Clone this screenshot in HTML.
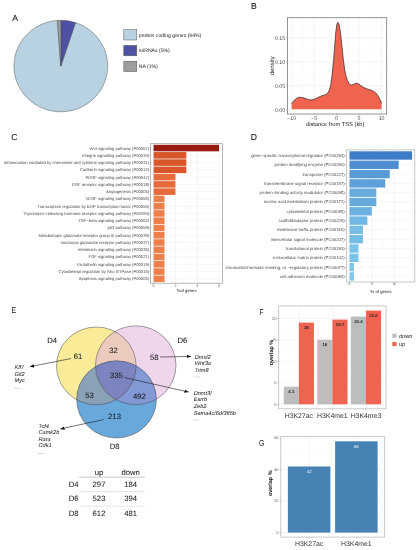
<!DOCTYPE html>
<html><head><meta charset="utf-8"><title>Figure</title>
<style>
html,body{margin:0;padding:0;background:#fff;}
body{width:418px;height:550px;overflow:hidden;}
svg{display:block;filter:blur(0.3px);font-family:"Liberation Sans",sans-serif;text-rendering:geometricPrecision;}
</style></head><body>
<svg width="418" height="550" viewBox="0 0 418 550">
<rect x="0" y="0" width="418" height="550" fill="#ffffff"/>
<text transform="translate(12.3 20.8) scale(1.0 1)" font-size="8.6" fill="#1c1c1c" stroke="#1c1c1c" stroke-width="0.1">A</text>
<text transform="translate(250.9 9.2) scale(1.0 1)" font-size="8.6" fill="#1c1c1c" stroke="#1c1c1c" stroke-width="0.1">B</text>
<text transform="translate(11.3 140.0) scale(1.0 1)" font-size="8.6" fill="#1c1c1c" stroke="#1c1c1c" stroke-width="0.1">C</text>
<text transform="translate(250.8 140.0) scale(1.0 1)" font-size="8.6" fill="#1c1c1c" stroke="#1c1c1c" stroke-width="0.1">D</text>
<text transform="translate(11.4 313.2) scale(0.82 1)" font-size="8.6" fill="#1c1c1c" stroke="#1c1c1c" stroke-width="0.02">E</text>
<text transform="translate(259.6 315.2) scale(0.78 1)" font-size="8.6" fill="#1c1c1c" stroke="#1c1c1c" stroke-width="0.02">F</text>
<text transform="translate(259.0 446.3) scale(0.8 1)" font-size="8.6" fill="#1c1c1c" stroke="#1c1c1c" stroke-width="0.02">G</text>
<path d="M60.80 66.05 L75.53 22.61 A46.9 45.75 0 1 1 57.37 20.42 Z" fill="#b8d2e1" stroke="#4a4a4a" stroke-width="0.45" stroke-linejoin="round"/>
<path d="M60.80 66.05 L60.80 20.30 A46.9 45.75 0 0 1 75.53 22.61 Z" fill="#4d51a3" stroke="#4a4a4a" stroke-width="0.45" stroke-linejoin="round"/>
<path d="M60.80 66.05 L57.37 20.42 A46.9 45.75 0 0 1 60.80 20.30 Z" fill="#9d9d9d" stroke="#4a4a4a" stroke-width="0.45" stroke-linejoin="round"/>
<rect x="123.80" y="29.60" width="13.00" height="10.40" fill="#b8d2e1" stroke="#555" stroke-width="0.5"/>
<text x="138.80" y="36.60" font-size="5.12" fill="#222">protein coding genes (94%)</text>
<rect x="123.80" y="45.40" width="13.00" height="10.40" fill="#4d51a3" stroke="#555" stroke-width="0.5"/>
<text x="138.80" y="52.40" font-size="5.12" fill="#222">miRNAs (5%)</text>
<rect x="123.80" y="61.20" width="13.00" height="10.40" fill="#9d9d9d" stroke="#555" stroke-width="0.5"/>
<text x="138.80" y="68.20" font-size="5.12" fill="#222">NA (1%)</text>
<rect x="287.40" y="17.70" width="99.30" height="96.30" fill="#fff"/>
<line x1="302.85" y1="17.70" x2="302.85" y2="114.00" stroke="#f3f3f3" stroke-width="0.3"/>
<line x1="325.35" y1="17.70" x2="325.35" y2="114.00" stroke="#f3f3f3" stroke-width="0.3"/>
<line x1="347.85" y1="17.70" x2="347.85" y2="114.00" stroke="#f3f3f3" stroke-width="0.3"/>
<line x1="370.35" y1="17.70" x2="370.35" y2="114.00" stroke="#f3f3f3" stroke-width="0.3"/>
<line x1="287.40" y1="97.40" x2="386.70" y2="97.40" stroke="#f3f3f3" stroke-width="0.3"/>
<line x1="287.40" y1="73.60" x2="386.70" y2="73.60" stroke="#f3f3f3" stroke-width="0.3"/>
<line x1="287.40" y1="49.80" x2="386.70" y2="49.80" stroke="#f3f3f3" stroke-width="0.3"/>
<line x1="287.40" y1="26.00" x2="386.70" y2="26.00" stroke="#f3f3f3" stroke-width="0.3"/>
<line x1="291.60" y1="17.70" x2="291.60" y2="114.00" stroke="#ebebeb" stroke-width="0.5"/>
<line x1="314.10" y1="17.70" x2="314.10" y2="114.00" stroke="#ebebeb" stroke-width="0.5"/>
<line x1="336.60" y1="17.70" x2="336.60" y2="114.00" stroke="#ebebeb" stroke-width="0.5"/>
<line x1="359.10" y1="17.70" x2="359.10" y2="114.00" stroke="#ebebeb" stroke-width="0.5"/>
<line x1="381.60" y1="17.70" x2="381.60" y2="114.00" stroke="#ebebeb" stroke-width="0.5"/>
<line x1="287.40" y1="109.30" x2="386.70" y2="109.30" stroke="#ebebeb" stroke-width="0.5"/>
<line x1="287.40" y1="85.50" x2="386.70" y2="85.50" stroke="#ebebeb" stroke-width="0.5"/>
<line x1="287.40" y1="61.70" x2="386.70" y2="61.70" stroke="#ebebeb" stroke-width="0.5"/>
<line x1="287.40" y1="37.90" x2="386.70" y2="37.90" stroke="#ebebeb" stroke-width="0.5"/>
<path d="M291.6 109.3 L291.6 103.8 L293.5 101.0 L295.5 99.0 L297.5 97.7 L299.8 97.2 L302.5 97.5 L305.0 98.3 L307.5 99.3 L310.3 100.0 L313.0 99.6 L315.8 98.6 L318.5 97.3 L321.3 95.9 L323.5 95.2 L325.4 94.7 L327.0 93.8 L328.3 92.2 L329.6 89.3 L330.9 84.3 L332.2 74.0 L333.6 59.5 L334.8 44.0 L335.8 32.0 L336.8 24.6 L337.8 22.3 L338.8 23.5 L339.7 27.5 L340.8 35.5 L341.9 45.8 L343.2 58.5 L344.6 69.1 L346.0 76.0 L347.4 80.4 L348.8 83.2 L350.2 84.7 L351.6 85.0 L352.9 84.7 L354.7 83.7 L356.5 83.2 L358.2 83.7 L359.8 84.8 L361.8 86.3 L363.9 87.6 L366.0 88.5 L368.0 89.2 L370.7 90.0 L373.5 91.2 L375.7 92.8 L377.7 95.3 L379.5 98.5 L381.6 103.2 L381.6 109.3 Z" fill="#f0634e"/>
<path d="M291.6 103.8 L293.5 101.0 L295.5 99.0 L297.5 97.7 L299.8 97.2 L302.5 97.5 L305.0 98.3 L307.5 99.3 L310.3 100.0 L313.0 99.6 L315.8 98.6 L318.5 97.3 L321.3 95.9 L323.5 95.2 L325.4 94.7 L327.0 93.8 L328.3 92.2 L329.6 89.3 L330.9 84.3 L332.2 74.0 L333.6 59.5 L334.8 44.0 L335.8 32.0 L336.8 24.6 L337.8 22.3 L338.8 23.5 L339.7 27.5 L340.8 35.5 L341.9 45.8 L343.2 58.5 L344.6 69.1 L346.0 76.0 L347.4 80.4 L348.8 83.2 L350.2 84.7 L351.6 85.0 L352.9 84.7 L354.7 83.7 L356.5 83.2 L358.2 83.7 L359.8 84.8 L361.8 86.3 L363.9 87.6 L366.0 88.5 L368.0 89.2 L370.7 90.0 L373.5 91.2 L375.7 92.8 L377.7 95.3 L379.5 98.5 L381.6 103.2" fill="none" stroke="#2a2a2a" stroke-width="0.7" stroke-linejoin="round"/>
<rect x="287.40" y="17.70" width="99.30" height="96.30" fill="none" stroke="#7a7a7a" stroke-width="0.8"/>
<text x="285.20" y="111.50" font-size="5.3" text-anchor="end" fill="#4d4d4d">0.00</text>
<line x1="286.10" y1="109.30" x2="287.40" y2="109.30" stroke="#777" stroke-width="0.4"/>
<text x="285.20" y="87.70" font-size="5.3" text-anchor="end" fill="#4d4d4d">0.05</text>
<line x1="286.10" y1="85.50" x2="287.40" y2="85.50" stroke="#777" stroke-width="0.4"/>
<text x="285.20" y="63.90" font-size="5.3" text-anchor="end" fill="#4d4d4d">0.10</text>
<line x1="286.10" y1="61.70" x2="287.40" y2="61.70" stroke="#777" stroke-width="0.4"/>
<text x="285.20" y="40.10" font-size="5.3" text-anchor="end" fill="#4d4d4d">0.15</text>
<line x1="286.10" y1="37.90" x2="287.40" y2="37.90" stroke="#777" stroke-width="0.4"/>
<text x="291.60" y="120.30" font-size="5.3" text-anchor="middle" fill="#4d4d4d">−10</text>
<line x1="291.60" y1="114.00" x2="291.60" y2="115.30" stroke="#777" stroke-width="0.4"/>
<text x="314.10" y="120.30" font-size="5.3" text-anchor="middle" fill="#4d4d4d">−5</text>
<line x1="314.10" y1="114.00" x2="314.10" y2="115.30" stroke="#777" stroke-width="0.4"/>
<text x="336.60" y="120.30" font-size="5.3" text-anchor="middle" fill="#4d4d4d">0</text>
<line x1="336.60" y1="114.00" x2="336.60" y2="115.30" stroke="#777" stroke-width="0.4"/>
<text x="359.10" y="120.30" font-size="5.3" text-anchor="middle" fill="#4d4d4d">5</text>
<line x1="359.10" y1="114.00" x2="359.10" y2="115.30" stroke="#777" stroke-width="0.4"/>
<text x="381.60" y="120.30" font-size="5.3" text-anchor="middle" fill="#4d4d4d">10</text>
<line x1="381.60" y1="114.00" x2="381.60" y2="115.30" stroke="#777" stroke-width="0.4"/>
<text x="335.15" y="126.00" font-size="5.72" text-anchor="middle" fill="#222">distance from TSS (kb)</text>
<text x="274.30" y="65.85" font-size="6" text-anchor="middle" transform="rotate(-90 274.3 65.85)" fill="#222">density</text>
<rect x="150.35" y="143.70" width="72.05" height="139.50" fill="#fff"/>
<line x1="164.50" y1="143.70" x2="164.50" y2="283.20" stroke="#f3f3f3" stroke-width="0.3"/>
<line x1="186.30" y1="143.70" x2="186.30" y2="283.20" stroke="#f3f3f3" stroke-width="0.3"/>
<line x1="208.10" y1="143.70" x2="208.10" y2="283.20" stroke="#f3f3f3" stroke-width="0.3"/>
<line x1="153.60" y1="143.70" x2="153.60" y2="283.20" stroke="#ebebeb" stroke-width="0.5"/>
<line x1="175.40" y1="143.70" x2="175.40" y2="283.20" stroke="#ebebeb" stroke-width="0.5"/>
<line x1="197.20" y1="143.70" x2="197.20" y2="283.20" stroke="#ebebeb" stroke-width="0.5"/>
<line x1="219.00" y1="143.70" x2="219.00" y2="283.20" stroke="#ebebeb" stroke-width="0.5"/>
<line x1="150.35" y1="148.06" x2="222.40" y2="148.06" stroke="#ebebeb" stroke-width="0.4"/>
<line x1="150.35" y1="155.32" x2="222.40" y2="155.32" stroke="#ebebeb" stroke-width="0.4"/>
<line x1="150.35" y1="162.59" x2="222.40" y2="162.59" stroke="#ebebeb" stroke-width="0.4"/>
<line x1="150.35" y1="169.86" x2="222.40" y2="169.86" stroke="#ebebeb" stroke-width="0.4"/>
<line x1="150.35" y1="177.12" x2="222.40" y2="177.12" stroke="#ebebeb" stroke-width="0.4"/>
<line x1="150.35" y1="184.39" x2="222.40" y2="184.39" stroke="#ebebeb" stroke-width="0.4"/>
<line x1="150.35" y1="191.65" x2="222.40" y2="191.65" stroke="#ebebeb" stroke-width="0.4"/>
<line x1="150.35" y1="198.92" x2="222.40" y2="198.92" stroke="#ebebeb" stroke-width="0.4"/>
<line x1="150.35" y1="206.18" x2="222.40" y2="206.18" stroke="#ebebeb" stroke-width="0.4"/>
<line x1="150.35" y1="213.45" x2="222.40" y2="213.45" stroke="#ebebeb" stroke-width="0.4"/>
<line x1="150.35" y1="220.72" x2="222.40" y2="220.72" stroke="#ebebeb" stroke-width="0.4"/>
<line x1="150.35" y1="227.98" x2="222.40" y2="227.98" stroke="#ebebeb" stroke-width="0.4"/>
<line x1="150.35" y1="235.25" x2="222.40" y2="235.25" stroke="#ebebeb" stroke-width="0.4"/>
<line x1="150.35" y1="242.51" x2="222.40" y2="242.51" stroke="#ebebeb" stroke-width="0.4"/>
<line x1="150.35" y1="249.78" x2="222.40" y2="249.78" stroke="#ebebeb" stroke-width="0.4"/>
<line x1="150.35" y1="257.04" x2="222.40" y2="257.04" stroke="#ebebeb" stroke-width="0.4"/>
<line x1="150.35" y1="264.31" x2="222.40" y2="264.31" stroke="#ebebeb" stroke-width="0.4"/>
<line x1="150.35" y1="271.57" x2="222.40" y2="271.57" stroke="#ebebeb" stroke-width="0.4"/>
<line x1="150.35" y1="278.84" x2="222.40" y2="278.84" stroke="#ebebeb" stroke-width="0.4"/>
<rect x="153.60" y="144.79" width="65.40" height="6.54" fill="#9a1b14"/>
<text x="149.15" y="149.51" font-size="4.15" text-anchor="end" fill="#4a4a4a">Wnt signaling pathway (P00057)</text>
<line x1="149.25" y1="148.06" x2="150.35" y2="148.06" stroke="#777" stroke-width="0.35"/>
<rect x="153.60" y="152.06" width="32.70" height="6.54" fill="#d8562a"/>
<text x="149.15" y="156.77" font-size="4.15" text-anchor="end" fill="#4a4a4a">Integrin signalling pathway (P00034)</text>
<line x1="149.25" y1="155.32" x2="150.35" y2="155.32" stroke="#777" stroke-width="0.35"/>
<rect x="153.60" y="159.32" width="32.70" height="6.54" fill="#d8562a"/>
<text x="149.15" y="164.04" font-size="4.15" text-anchor="end" fill="#4a4a4a">Inflammation mediated by chemokine and cytokine signaling pathway (P00031)</text>
<line x1="149.25" y1="162.59" x2="150.35" y2="162.59" stroke="#777" stroke-width="0.35"/>
<rect x="153.60" y="166.59" width="32.70" height="6.54" fill="#d8562a"/>
<text x="149.15" y="171.31" font-size="4.15" text-anchor="end" fill="#4a4a4a">Cadherin signaling pathway (P00012)</text>
<line x1="149.25" y1="169.86" x2="150.35" y2="169.86" stroke="#777" stroke-width="0.35"/>
<rect x="153.60" y="173.85" width="21.80" height="6.54" fill="#e66a3a"/>
<text x="149.15" y="178.57" font-size="4.15" text-anchor="end" fill="#4a4a4a">PDGF signaling pathway (P00047)</text>
<line x1="149.25" y1="177.12" x2="150.35" y2="177.12" stroke="#777" stroke-width="0.35"/>
<rect x="153.60" y="181.12" width="21.80" height="6.54" fill="#e66a3a"/>
<text x="149.15" y="185.84" font-size="4.15" text-anchor="end" fill="#4a4a4a">EGF receptor signaling pathway (P00018)</text>
<line x1="149.25" y1="184.39" x2="150.35" y2="184.39" stroke="#777" stroke-width="0.35"/>
<rect x="153.60" y="188.38" width="21.80" height="6.54" fill="#e66a3a"/>
<text x="149.15" y="193.10" font-size="4.15" text-anchor="end" fill="#4a4a4a">Angiogenesis (P00005)</text>
<line x1="149.25" y1="191.65" x2="150.35" y2="191.65" stroke="#777" stroke-width="0.35"/>
<rect x="153.60" y="195.65" width="10.90" height="6.54" fill="#ef8049"/>
<text x="149.15" y="200.37" font-size="4.15" text-anchor="end" fill="#4a4a4a">VEGF signaling pathway (P00056)</text>
<line x1="149.25" y1="198.92" x2="150.35" y2="198.92" stroke="#777" stroke-width="0.35"/>
<rect x="153.60" y="202.91" width="10.90" height="6.54" fill="#ef8049"/>
<text x="149.15" y="207.63" font-size="4.15" text-anchor="end" fill="#4a4a4a">Transcription regulation by bZIP transcription factor (P00055)</text>
<line x1="149.25" y1="206.18" x2="150.35" y2="206.18" stroke="#777" stroke-width="0.35"/>
<rect x="153.60" y="210.18" width="10.90" height="6.54" fill="#ef8049"/>
<text x="149.15" y="214.90" font-size="4.15" text-anchor="end" fill="#4a4a4a">Thyrotropin−releasing hormone receptor signaling pathway (P04394)</text>
<line x1="149.25" y1="213.45" x2="150.35" y2="213.45" stroke="#777" stroke-width="0.35"/>
<rect x="153.60" y="217.45" width="10.90" height="6.54" fill="#ef8049"/>
<text x="149.15" y="222.17" font-size="4.15" text-anchor="end" fill="#4a4a4a">TGF−beta signaling pathway (P00052)</text>
<line x1="149.25" y1="220.72" x2="150.35" y2="220.72" stroke="#777" stroke-width="0.35"/>
<rect x="153.60" y="224.71" width="10.90" height="6.54" fill="#ef8049"/>
<text x="149.15" y="229.43" font-size="4.15" text-anchor="end" fill="#4a4a4a">p53 pathway (P00059)</text>
<line x1="149.25" y1="227.98" x2="150.35" y2="227.98" stroke="#777" stroke-width="0.35"/>
<rect x="153.60" y="231.98" width="10.90" height="6.54" fill="#ef8049"/>
<text x="149.15" y="236.70" font-size="4.15" text-anchor="end" fill="#4a4a4a">Metabotropic glutamate receptor group III pathway (P00039)</text>
<line x1="149.25" y1="235.25" x2="150.35" y2="235.25" stroke="#777" stroke-width="0.35"/>
<rect x="153.60" y="239.24" width="10.90" height="6.54" fill="#ef8049"/>
<text x="149.15" y="243.96" font-size="4.15" text-anchor="end" fill="#4a4a4a">Ionotropic glutamate receptor pathway (P00037)</text>
<line x1="149.25" y1="242.51" x2="150.35" y2="242.51" stroke="#777" stroke-width="0.35"/>
<rect x="153.60" y="246.51" width="10.90" height="6.54" fill="#ef8049"/>
<text x="149.15" y="251.23" font-size="4.15" text-anchor="end" fill="#4a4a4a">Interleukin signaling pathway (P00036)</text>
<line x1="149.25" y1="249.78" x2="150.35" y2="249.78" stroke="#777" stroke-width="0.35"/>
<rect x="153.60" y="253.77" width="10.90" height="6.54" fill="#ef8049"/>
<text x="149.15" y="258.49" font-size="4.15" text-anchor="end" fill="#4a4a4a">FGF signaling pathway (P00021)</text>
<line x1="149.25" y1="257.04" x2="150.35" y2="257.04" stroke="#777" stroke-width="0.35"/>
<rect x="153.60" y="261.04" width="10.90" height="6.54" fill="#ef8049"/>
<text x="149.15" y="265.76" font-size="4.15" text-anchor="end" fill="#4a4a4a">Endothelin signaling pathway (P00019)</text>
<line x1="149.25" y1="264.31" x2="150.35" y2="264.31" stroke="#777" stroke-width="0.35"/>
<rect x="153.60" y="268.31" width="10.90" height="6.54" fill="#ef8049"/>
<text x="149.15" y="273.02" font-size="4.15" text-anchor="end" fill="#4a4a4a">Cytoskeletal regulation by Rho GTPase (P00016)</text>
<line x1="149.25" y1="271.57" x2="150.35" y2="271.57" stroke="#777" stroke-width="0.35"/>
<rect x="153.60" y="275.57" width="10.90" height="6.54" fill="#ef8049"/>
<text x="149.15" y="280.29" font-size="4.15" text-anchor="end" fill="#4a4a4a">Apoptosis signaling pathway (P00006)</text>
<line x1="149.25" y1="278.84" x2="150.35" y2="278.84" stroke="#777" stroke-width="0.35"/>
<rect x="150.35" y="143.70" width="72.05" height="139.50" fill="none" stroke="#999999" stroke-width="0.7"/>
<text x="153.60" y="287.30" font-size="3.6" text-anchor="middle" fill="#555">0</text>
<line x1="153.60" y1="283.20" x2="153.60" y2="284.30" stroke="#777" stroke-width="0.35"/>
<text x="175.40" y="287.30" font-size="3.6" text-anchor="middle" fill="#555">2</text>
<line x1="175.40" y1="283.20" x2="175.40" y2="284.30" stroke="#777" stroke-width="0.35"/>
<text x="197.20" y="287.30" font-size="3.6" text-anchor="middle" fill="#555">4</text>
<line x1="197.20" y1="283.20" x2="197.20" y2="284.30" stroke="#777" stroke-width="0.35"/>
<text x="219.00" y="287.30" font-size="3.6" text-anchor="middle" fill="#555">6</text>
<line x1="219.00" y1="283.20" x2="219.00" y2="284.30" stroke="#777" stroke-width="0.35"/>
<text x="186.60" y="292.10" font-size="4.2" text-anchor="middle" fill="#222">%of genes</text>
<rect x="346.50" y="149.90" width="68.30" height="132.10" fill="#fff"/>
<line x1="360.68" y1="149.90" x2="360.68" y2="282.00" stroke="#f3f3f3" stroke-width="0.3"/>
<line x1="383.02" y1="149.90" x2="383.02" y2="282.00" stroke="#f3f3f3" stroke-width="0.3"/>
<line x1="405.38" y1="149.90" x2="405.38" y2="282.00" stroke="#f3f3f3" stroke-width="0.3"/>
<line x1="349.50" y1="149.90" x2="349.50" y2="282.00" stroke="#ebebeb" stroke-width="0.5"/>
<line x1="371.85" y1="149.90" x2="371.85" y2="282.00" stroke="#ebebeb" stroke-width="0.5"/>
<line x1="394.20" y1="149.90" x2="394.20" y2="282.00" stroke="#ebebeb" stroke-width="0.5"/>
<line x1="346.50" y1="155.48" x2="414.80" y2="155.48" stroke="#ebebeb" stroke-width="0.4"/>
<line x1="346.50" y1="164.78" x2="414.80" y2="164.78" stroke="#ebebeb" stroke-width="0.4"/>
<line x1="346.50" y1="174.09" x2="414.80" y2="174.09" stroke="#ebebeb" stroke-width="0.4"/>
<line x1="346.50" y1="183.39" x2="414.80" y2="183.39" stroke="#ebebeb" stroke-width="0.4"/>
<line x1="346.50" y1="192.69" x2="414.80" y2="192.69" stroke="#ebebeb" stroke-width="0.4"/>
<line x1="346.50" y1="202.00" x2="414.80" y2="202.00" stroke="#ebebeb" stroke-width="0.4"/>
<line x1="346.50" y1="211.30" x2="414.80" y2="211.30" stroke="#ebebeb" stroke-width="0.4"/>
<line x1="346.50" y1="220.60" x2="414.80" y2="220.60" stroke="#ebebeb" stroke-width="0.4"/>
<line x1="346.50" y1="229.90" x2="414.80" y2="229.90" stroke="#ebebeb" stroke-width="0.4"/>
<line x1="346.50" y1="239.21" x2="414.80" y2="239.21" stroke="#ebebeb" stroke-width="0.4"/>
<line x1="346.50" y1="248.51" x2="414.80" y2="248.51" stroke="#ebebeb" stroke-width="0.4"/>
<line x1="346.50" y1="257.81" x2="414.80" y2="257.81" stroke="#ebebeb" stroke-width="0.4"/>
<line x1="346.50" y1="267.12" x2="414.80" y2="267.12" stroke="#ebebeb" stroke-width="0.4"/>
<line x1="346.50" y1="276.42" x2="414.80" y2="276.42" stroke="#ebebeb" stroke-width="0.4"/>
<rect x="349.50" y="151.30" width="62.58" height="8.37" fill="#3f7cc8"/>
<text x="344.70" y="156.93" font-size="4.25" text-anchor="end" fill="#4a4a4a">gene−specific transcriptional regulator (PC00264)</text>
<line x1="345.40" y1="155.48" x2="346.50" y2="155.48" stroke="#777" stroke-width="0.35"/>
<rect x="349.50" y="160.60" width="49.17" height="8.37" fill="#4e8ed0"/>
<text x="344.70" y="166.23" font-size="4.25" text-anchor="end" fill="#4a4a4a">protein modifying enzyme (PC00260)</text>
<line x1="345.40" y1="164.78" x2="346.50" y2="164.78" stroke="#777" stroke-width="0.35"/>
<rect x="349.50" y="169.90" width="40.23" height="8.37" fill="#589ad6"/>
<text x="344.70" y="175.54" font-size="4.25" text-anchor="end" fill="#4a4a4a">transporter (PC00227)</text>
<line x1="345.40" y1="174.09" x2="346.50" y2="174.09" stroke="#777" stroke-width="0.35"/>
<rect x="349.50" y="179.20" width="35.76" height="8.37" fill="#5da0d9"/>
<text x="344.70" y="184.84" font-size="4.25" text-anchor="end" fill="#4a4a4a">transmembrane signal receptor (PC00197)</text>
<line x1="345.40" y1="183.39" x2="346.50" y2="183.39" stroke="#777" stroke-width="0.35"/>
<rect x="349.50" y="188.51" width="26.82" height="8.37" fill="#67abde"/>
<text x="344.70" y="194.14" font-size="4.25" text-anchor="end" fill="#4a4a4a">protein−binding activity modulator (PC00095)</text>
<line x1="345.40" y1="192.69" x2="346.50" y2="192.69" stroke="#777" stroke-width="0.35"/>
<rect x="349.50" y="197.81" width="26.82" height="8.37" fill="#67abde"/>
<text x="344.70" y="203.45" font-size="4.25" text-anchor="end" fill="#4a4a4a">nucleic acid metabolism protein (PC00171)</text>
<line x1="345.40" y1="202.00" x2="346.50" y2="202.00" stroke="#777" stroke-width="0.35"/>
<rect x="349.50" y="207.11" width="22.35" height="8.37" fill="#6cb1e1"/>
<text x="344.70" y="212.75" font-size="4.25" text-anchor="end" fill="#4a4a4a">cytoskeletal protein (PC00085)</text>
<line x1="345.40" y1="211.30" x2="346.50" y2="211.30" stroke="#777" stroke-width="0.35"/>
<rect x="349.50" y="216.42" width="17.88" height="8.37" fill="#71b7e4"/>
<text x="344.70" y="222.05" font-size="4.25" text-anchor="end" fill="#4a4a4a">scaffold/adaptor protein (PC00226)</text>
<line x1="345.40" y1="220.60" x2="346.50" y2="220.60" stroke="#777" stroke-width="0.35"/>
<rect x="349.50" y="225.72" width="13.41" height="8.37" fill="#76bde6"/>
<text x="344.70" y="231.35" font-size="4.25" text-anchor="end" fill="#4a4a4a">membrane traffic protein (PC00150)</text>
<line x1="345.40" y1="229.90" x2="346.50" y2="229.90" stroke="#777" stroke-width="0.35"/>
<rect x="349.50" y="235.02" width="13.41" height="8.37" fill="#76bde6"/>
<text x="344.70" y="240.66" font-size="4.25" text-anchor="end" fill="#4a4a4a">intercellular signal molecule (PC00207)</text>
<line x1="345.40" y1="239.21" x2="346.50" y2="239.21" stroke="#777" stroke-width="0.35"/>
<rect x="349.50" y="244.32" width="8.94" height="8.37" fill="#7bc3e9"/>
<text x="344.70" y="249.96" font-size="4.25" text-anchor="end" fill="#4a4a4a">translational protein (PC00263)</text>
<line x1="345.40" y1="248.51" x2="346.50" y2="248.51" stroke="#777" stroke-width="0.35"/>
<rect x="349.50" y="253.63" width="8.94" height="8.37" fill="#7bc3e9"/>
<text x="344.70" y="259.26" font-size="4.25" text-anchor="end" fill="#4a4a4a">extracellular matrix protein (PC00102)</text>
<line x1="345.40" y1="257.81" x2="346.50" y2="257.81" stroke="#777" stroke-width="0.35"/>
<rect x="349.50" y="262.93" width="4.47" height="8.37" fill="#80c9ec"/>
<text x="344.70" y="268.57" font-size="4.25" text-anchor="end" fill="#4a4a4a">chromatin/chromatin−binding, or −regulatory protein (PC00077)</text>
<line x1="345.40" y1="267.12" x2="346.50" y2="267.12" stroke="#777" stroke-width="0.35"/>
<rect x="349.50" y="272.23" width="4.47" height="8.37" fill="#80c9ec"/>
<text x="344.70" y="277.87" font-size="4.25" text-anchor="end" fill="#4a4a4a">cell adhesion molecule (PC00069)</text>
<line x1="345.40" y1="276.42" x2="346.50" y2="276.42" stroke="#777" stroke-width="0.35"/>
<rect x="346.50" y="149.90" width="68.30" height="132.10" fill="none" stroke="#b0b0b0" stroke-width="0.7"/>
<text x="349.50" y="285.30" font-size="3.2" text-anchor="middle" fill="#555">0</text>
<line x1="349.50" y1="282.00" x2="349.50" y2="283.10" stroke="#777" stroke-width="0.35"/>
<text x="371.85" y="285.30" font-size="3.2" text-anchor="middle" fill="#555">5</text>
<line x1="371.85" y1="282.00" x2="371.85" y2="283.10" stroke="#777" stroke-width="0.35"/>
<text x="394.20" y="285.30" font-size="3.2" text-anchor="middle" fill="#555">10</text>
<line x1="394.20" y1="282.00" x2="394.20" y2="283.10" stroke="#777" stroke-width="0.35"/>
<text x="381.10" y="293.00" font-size="4.2" text-anchor="middle" fill="#222">% of genes</text>
<defs>
<clipPath id="cY"><ellipse cx="96.3" cy="365.9" rx="39.8" ry="38.9"/></clipPath>
<clipPath id="cP"><ellipse cx="135.75" cy="365.25" rx="40.25" ry="39.45"/></clipPath>
<clipPath id="cB"><ellipse cx="116.55" cy="399.4" rx="39.85" ry="38.6"/></clipPath>
</defs>
<ellipse cx="96.3" cy="365.9" rx="39.8" ry="38.9" fill="#f9eb98"/>
<ellipse cx="135.75" cy="365.25" rx="40.25" ry="39.45" fill="#f0d6ec"/>
<ellipse cx="116.55" cy="399.4" rx="39.85" ry="38.6" fill="#69a8da"/>
<ellipse cx="135.75" cy="365.25" rx="40.25" ry="39.45" fill="#eccbbe" clip-path="url(#cY)"/>
<ellipse cx="116.55" cy="399.4" rx="39.85" ry="38.6" fill="#8ba1b5" clip-path="url(#cY)"/>
<ellipse cx="116.55" cy="399.4" rx="39.85" ry="38.6" fill="#8399d5" clip-path="url(#cP)"/>
<g clip-path="url(#cY)">
<ellipse cx="116.55" cy="399.4" rx="39.85" ry="38.6" fill="#7b84be" clip-path="url(#cP)"/>
</g>
<ellipse cx="96.3" cy="365.9" rx="39.8" ry="38.9" fill="none" stroke="#444" stroke-width="0.5"/>
<ellipse cx="135.75" cy="365.25" rx="40.25" ry="39.45" fill="none" stroke="#444" stroke-width="0.5"/>
<ellipse cx="116.55" cy="399.4" rx="39.85" ry="38.6" fill="none" stroke="#444" stroke-width="0.5"/>
<text x="52.10" y="343.30" font-size="7.7" text-anchor="middle" fill="#1a1a1a" stroke="#1a1a1a" stroke-width="0.07">D4</text>
<text x="182.40" y="343.30" font-size="7.7" text-anchor="middle" fill="#1a1a1a" stroke="#1a1a1a" stroke-width="0.07">D6</text>
<text x="114.70" y="448.70" font-size="7.7" text-anchor="middle" fill="#1a1a1a" stroke="#1a1a1a" stroke-width="0.07">D8</text>
<text x="78.00" y="359.20" font-size="7.7" text-anchor="middle" fill="#1a1a1a" stroke="#1a1a1a" stroke-width="0.07">61</text>
<text x="113.60" y="352.80" font-size="7.7" text-anchor="middle" fill="#1a1a1a" stroke="#1a1a1a" stroke-width="0.07">32</text>
<text x="154.30" y="359.50" font-size="7.7" text-anchor="middle" fill="#1a1a1a" stroke="#1a1a1a" stroke-width="0.07">58</text>
<text x="116.40" y="378.40" font-size="7.7" text-anchor="middle" fill="#1a1a1a" stroke="#1a1a1a" stroke-width="0.07">335</text>
<text x="89.50" y="398.30" font-size="7.7" text-anchor="middle" fill="#1a1a1a" stroke="#1a1a1a" stroke-width="0.07">53</text>
<text x="139.45" y="398.50" font-size="7.7" text-anchor="middle" fill="#1a1a1a" stroke="#1a1a1a" stroke-width="0.07">492</text>
<text x="114.50" y="419.20" font-size="7.7" text-anchor="middle" fill="#1a1a1a" stroke="#1a1a1a" stroke-width="0.07">213</text>
<defs><marker id="ah" viewBox="0 0 10 10" refX="9.5" refY="5" markerWidth="4.4" markerHeight="4.4" markerUnits="userSpaceOnUse" orient="auto"><path d="M0 1.2 L10 5 L0 8.8 Z" fill="#111"/></marker></defs>
<line x1="71.10" y1="358.50" x2="30.00" y2="366.70" stroke="#1a1a1a" stroke-width="0.6" marker-end="url(#ah)"/>
<line x1="103.70" y1="419.60" x2="60.40" y2="428.90" stroke="#1a1a1a" stroke-width="0.6" marker-end="url(#ah)"/>
<line x1="160.00" y1="357.00" x2="191.00" y2="356.40" stroke="#1a1a1a" stroke-width="0.6" marker-end="url(#ah)"/>
<line x1="124.20" y1="377.50" x2="188.50" y2="392.00" stroke="#1a1a1a" stroke-width="0.6" marker-end="url(#ah)"/>
<text x="14.60" y="369.30" font-size="5.6" font-style="italic" fill="#111">Klf7</text>
<text x="14.60" y="375.80" font-size="5.6" font-style="italic" fill="#111">Gli2</text>
<text x="14.60" y="382.30" font-size="5.6" font-style="italic" fill="#111">Myc</text>
<line x1="14.20" y1="388.30" x2="20.60" y2="388.30" stroke="#999" stroke-width="0.55" stroke-dasharray="0.8 0.5"/>
<text x="38.50" y="427.80" font-size="5.6" font-style="italic" fill="#111">Tcf4</text>
<text x="38.50" y="434.25" font-size="5.6" font-style="italic" fill="#111">Camk2b</text>
<text x="38.50" y="440.70" font-size="5.6" font-style="italic" fill="#111">Rara</text>
<text x="38.50" y="447.15" font-size="5.6" font-style="italic" fill="#111">Cdk1</text>
<line x1="38.10" y1="453.50" x2="44.50" y2="453.50" stroke="#999" stroke-width="0.55" stroke-dasharray="0.8 0.5"/>
<text x="194.70" y="358.60" font-size="5.6" font-style="italic" fill="#111">Dmxl2</text>
<text x="194.70" y="365.10" font-size="5.6" font-style="italic" fill="#111">Wnt3a</text>
<text x="194.70" y="371.60" font-size="5.6" font-style="italic" fill="#111">Trim8</text>
<line x1="194.30" y1="377.00" x2="200.70" y2="377.00" stroke="#999" stroke-width="0.55" stroke-dasharray="0.8 0.5"/>
<text x="193.70" y="394.90" font-size="5.6" font-style="italic" fill="#111">Dnmt3l</text>
<text x="193.70" y="401.45" font-size="5.6" font-style="italic" fill="#111">Esrrb</text>
<text x="193.70" y="408.00" font-size="5.6" font-style="italic" fill="#111">Zeb2</text>
<text x="193.70" y="414.55" font-size="5.6" font-style="italic" fill="#111">Sema4c/6d/3f/5b</text>
<line x1="193.30" y1="419.90" x2="199.70" y2="419.90" stroke="#999" stroke-width="0.55" stroke-dasharray="0.8 0.5"/>
<text x="99.00" y="474.90" font-size="7.7" text-anchor="middle" fill="#1a1a1a" stroke="#1a1a1a" stroke-width="0.05">up</text>
<text x="130.60" y="474.90" font-size="7.7" text-anchor="middle" fill="#1a1a1a" stroke="#1a1a1a" stroke-width="0.05">down</text>
<line x1="79.10" y1="477.20" x2="144.90" y2="477.20" stroke="#8a8a8a" stroke-width="0.5"/>
<text x="73.60" y="486.65" font-size="7.7" text-anchor="middle" fill="#1a1a1a" stroke="#1a1a1a" stroke-width="0.05">D4</text>
<text x="99.00" y="486.65" font-size="7.7" text-anchor="middle" fill="#1a1a1a" stroke="#1a1a1a" stroke-width="0.05">297</text>
<text x="130.60" y="486.65" font-size="7.7" text-anchor="middle" fill="#1a1a1a" stroke="#1a1a1a" stroke-width="0.05">184</text>
<line x1="79.10" y1="491.60" x2="144.90" y2="491.60" stroke="#c8c8c8" stroke-width="0.5"/>
<text x="73.60" y="501.05" font-size="7.7" text-anchor="middle" fill="#1a1a1a" stroke="#1a1a1a" stroke-width="0.05">D6</text>
<text x="99.00" y="501.05" font-size="7.7" text-anchor="middle" fill="#1a1a1a" stroke="#1a1a1a" stroke-width="0.05">523</text>
<text x="130.60" y="501.05" font-size="7.7" text-anchor="middle" fill="#1a1a1a" stroke="#1a1a1a" stroke-width="0.05">394</text>
<line x1="79.10" y1="506.20" x2="144.90" y2="506.20" stroke="#c8c8c8" stroke-width="0.5"/>
<text x="73.60" y="515.85" font-size="7.7" text-anchor="middle" fill="#1a1a1a" stroke="#1a1a1a" stroke-width="0.05">D8</text>
<text x="99.00" y="515.85" font-size="7.7" text-anchor="middle" fill="#1a1a1a" stroke="#1a1a1a" stroke-width="0.05">612</text>
<text x="130.60" y="515.85" font-size="7.7" text-anchor="middle" fill="#1a1a1a" stroke="#1a1a1a" stroke-width="0.05">481</text>
<rect x="278.70" y="305.90" width="107.40" height="102.90" fill="#fff"/>
<line x1="278.70" y1="393.55" x2="386.10" y2="393.55" stroke="#f3f3f3" stroke-width="0.3"/>
<line x1="278.70" y1="372.05" x2="386.10" y2="372.05" stroke="#f3f3f3" stroke-width="0.3"/>
<line x1="278.70" y1="350.55" x2="386.10" y2="350.55" stroke="#f3f3f3" stroke-width="0.3"/>
<line x1="278.70" y1="329.05" x2="386.10" y2="329.05" stroke="#f3f3f3" stroke-width="0.3"/>
<line x1="278.70" y1="404.30" x2="386.10" y2="404.30" stroke="#ebebeb" stroke-width="0.5"/>
<line x1="278.70" y1="382.80" x2="386.10" y2="382.80" stroke="#ebebeb" stroke-width="0.5"/>
<line x1="278.70" y1="361.30" x2="386.10" y2="361.30" stroke="#ebebeb" stroke-width="0.5"/>
<line x1="278.70" y1="339.80" x2="386.10" y2="339.80" stroke="#ebebeb" stroke-width="0.5"/>
<line x1="278.70" y1="318.30" x2="386.10" y2="318.30" stroke="#ebebeb" stroke-width="0.5"/>
<line x1="298.84" y1="305.90" x2="298.84" y2="408.80" stroke="#ebebeb" stroke-width="0.5"/>
<line x1="332.40" y1="305.90" x2="332.40" y2="408.80" stroke="#ebebeb" stroke-width="0.5"/>
<line x1="365.96" y1="305.90" x2="365.96" y2="408.80" stroke="#ebebeb" stroke-width="0.5"/>
<rect x="283.73" y="386.67" width="15.10" height="17.63" fill="#bdbdbd"/>
<rect x="298.84" y="322.60" width="15.10" height="81.70" fill="#ef6450"/>
<text x="291.29" y="392.77" font-size="4.3" text-anchor="middle" fill="#222" stroke="#222" stroke-width="0.12">4.1</text>
<text x="306.39" y="328.70" font-size="4.3" text-anchor="middle" fill="#222" stroke="#222" stroke-width="0.12">19</text>
<text x="298.84" y="417.60" font-size="6.9" text-anchor="middle" fill="#333">H3K27ac</text>
<line x1="298.84" y1="408.80" x2="298.84" y2="410.10" stroke="#777" stroke-width="0.4"/>
<rect x="317.30" y="339.80" width="15.10" height="64.50" fill="#bdbdbd"/>
<rect x="332.40" y="319.59" width="15.10" height="84.71" fill="#ef6450"/>
<text x="324.85" y="345.90" font-size="4.3" text-anchor="middle" fill="#222" stroke="#222" stroke-width="0.12">15</text>
<text x="339.95" y="325.69" font-size="4.3" text-anchor="middle" fill="#222" stroke="#222" stroke-width="0.12">19.7</text>
<text x="332.40" y="417.60" font-size="6.9" text-anchor="middle" fill="#333">H3K4me1</text>
<line x1="332.40" y1="408.80" x2="332.40" y2="410.10" stroke="#777" stroke-width="0.4"/>
<rect x="350.86" y="316.58" width="15.10" height="87.72" fill="#bdbdbd"/>
<rect x="365.96" y="310.56" width="15.10" height="93.74" fill="#ef6450"/>
<text x="358.41" y="322.68" font-size="4.3" text-anchor="middle" fill="#222" stroke="#222" stroke-width="0.12">20.4</text>
<text x="373.51" y="316.66" font-size="4.3" text-anchor="middle" fill="#222" stroke="#222" stroke-width="0.12">21.8</text>
<text x="365.96" y="417.60" font-size="6.9" text-anchor="middle" fill="#333">H3K4me3</text>
<line x1="365.96" y1="408.80" x2="365.96" y2="410.10" stroke="#777" stroke-width="0.4"/>
<rect x="278.70" y="305.90" width="107.40" height="102.90" fill="none" stroke="#bcbcbc" stroke-width="0.8"/>
<text x="276.50" y="405.60" font-size="4.0" text-anchor="end" fill="#666">0</text>
<line x1="277.40" y1="404.30" x2="278.70" y2="404.30" stroke="#777" stroke-width="0.4"/>
<text x="276.50" y="384.10" font-size="4.0" text-anchor="end" fill="#666">5</text>
<line x1="277.40" y1="382.80" x2="278.70" y2="382.80" stroke="#777" stroke-width="0.4"/>
<text x="276.50" y="362.60" font-size="4.0" text-anchor="end" fill="#666">10</text>
<line x1="277.40" y1="361.30" x2="278.70" y2="361.30" stroke="#777" stroke-width="0.4"/>
<text x="276.50" y="341.10" font-size="4.0" text-anchor="end" fill="#666">15</text>
<line x1="277.40" y1="339.80" x2="278.70" y2="339.80" stroke="#777" stroke-width="0.4"/>
<text x="276.50" y="319.60" font-size="4.0" text-anchor="end" fill="#666">20</text>
<line x1="277.40" y1="318.30" x2="278.70" y2="318.30" stroke="#777" stroke-width="0.4"/>
<text x="272.60" y="352.60" font-size="5.4" text-anchor="middle" font-weight="bold" transform="rotate(-90 272.6 352.6)" fill="#111">overlap %</text>
<rect x="392.30" y="333.60" width="4.20" height="4.20" fill="#bdbdbd"/>
<text x="399.00" y="337.50" font-size="5.6" fill="#222">down</text>
<rect x="392.30" y="341.90" width="4.20" height="4.20" fill="#ef6450"/>
<text x="399.00" y="345.60" font-size="5.6" fill="#222">up</text>
<rect x="280.80" y="436.60" width="103.90" height="100.50" fill="#fff"/>
<line x1="280.80" y1="516.86" x2="384.70" y2="516.86" stroke="#f3f3f3" stroke-width="0.3"/>
<line x1="280.80" y1="485.38" x2="384.70" y2="485.38" stroke="#f3f3f3" stroke-width="0.3"/>
<line x1="280.80" y1="453.90" x2="384.70" y2="453.90" stroke="#f3f3f3" stroke-width="0.3"/>
<line x1="280.80" y1="532.60" x2="384.70" y2="532.60" stroke="#ebebeb" stroke-width="0.5"/>
<line x1="280.80" y1="501.12" x2="384.70" y2="501.12" stroke="#ebebeb" stroke-width="0.5"/>
<line x1="280.80" y1="469.64" x2="384.70" y2="469.64" stroke="#ebebeb" stroke-width="0.5"/>
<line x1="280.80" y1="438.16" x2="384.70" y2="438.16" stroke="#ebebeb" stroke-width="0.5"/>
<line x1="309.14" y1="436.60" x2="309.14" y2="537.10" stroke="#ebebeb" stroke-width="0.5"/>
<line x1="356.36" y1="436.60" x2="356.36" y2="537.10" stroke="#ebebeb" stroke-width="0.5"/>
<rect x="287.88" y="466.49" width="42.50" height="66.11" fill="#4682b4"/>
<text x="309.14" y="473.39" font-size="4.2" text-anchor="middle" fill="#fff">42</text>
<text x="309.14" y="546.20" font-size="6.9" text-anchor="middle" fill="#333">H3K27ac</text>
<line x1="309.14" y1="537.10" x2="309.14" y2="538.40" stroke="#777" stroke-width="0.4"/>
<rect x="335.11" y="441.31" width="42.50" height="91.29" fill="#4682b4"/>
<text x="356.36" y="448.21" font-size="4.2" text-anchor="middle" fill="#fff">58</text>
<text x="356.36" y="546.20" font-size="6.9" text-anchor="middle" fill="#333">H3K4me1</text>
<line x1="356.36" y1="537.10" x2="356.36" y2="538.40" stroke="#777" stroke-width="0.4"/>
<rect x="280.80" y="436.60" width="103.90" height="100.50" fill="none" stroke="#bcbcbc" stroke-width="0.8"/>
<text x="278.60" y="533.90" font-size="4.0" text-anchor="end" fill="#666">0</text>
<line x1="279.50" y1="532.60" x2="280.80" y2="532.60" stroke="#777" stroke-width="0.4"/>
<text x="278.60" y="502.42" font-size="4.0" text-anchor="end" fill="#666">20</text>
<line x1="279.50" y1="501.12" x2="280.80" y2="501.12" stroke="#777" stroke-width="0.4"/>
<text x="278.60" y="470.94" font-size="4.0" text-anchor="end" fill="#666">40</text>
<line x1="279.50" y1="469.64" x2="280.80" y2="469.64" stroke="#777" stroke-width="0.4"/>
<text x="278.60" y="439.46" font-size="4.0" text-anchor="end" fill="#666">60</text>
<line x1="279.50" y1="438.16" x2="280.80" y2="438.16" stroke="#777" stroke-width="0.4"/>
<text x="271.70" y="483.30" font-size="5.4" text-anchor="middle" font-weight="bold" transform="rotate(-90 271.7 483.3)" fill="#111">overlap %</text>
</svg>
</body></html>
